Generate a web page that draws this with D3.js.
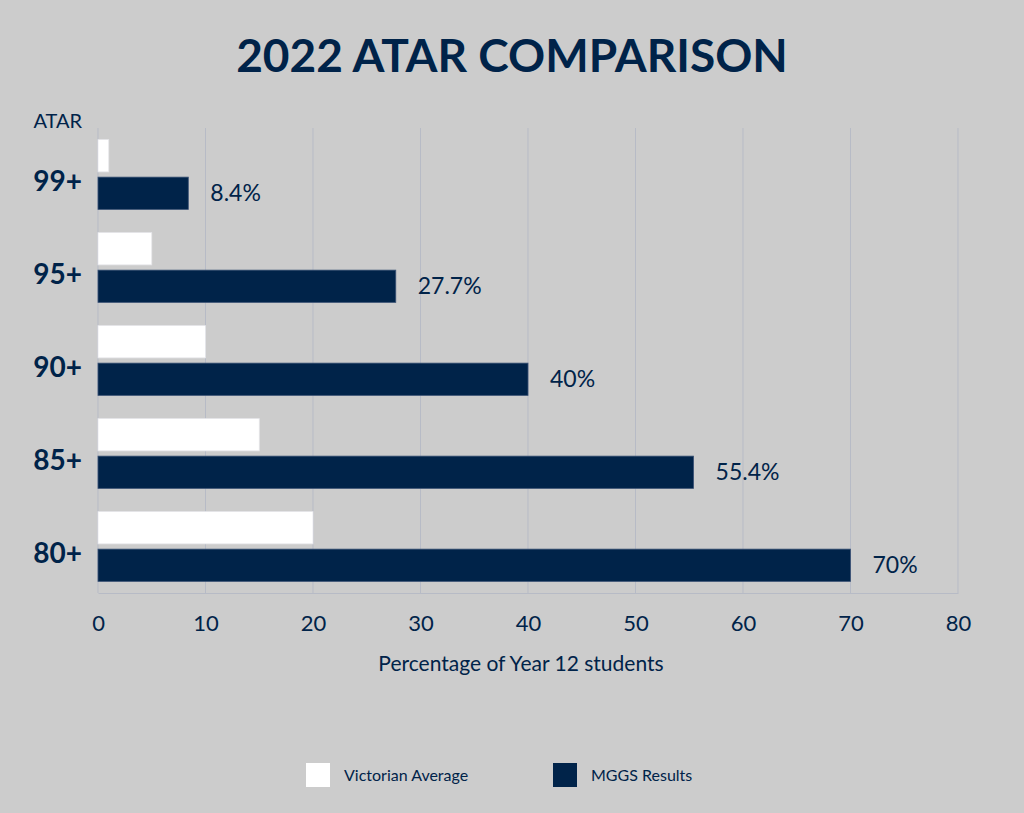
<!DOCTYPE html>
<html>
<head>
<meta charset="utf-8">
<script src="https://cdn.jsdelivr.net/npm/d3@7"></script>
<style>
  body { margin: 0; background: #cccccc; }
  svg { display: block; font-family: Lato, "Noto Sans", sans-serif; }
</style>
</head>
<body>
<svg id="chart" width="1024" height="813"></svg>
<script>
var categories = ["99+", "95+", "90+", "85+", "80+"],
    seriesNames = ["Victorian Average", "MGGS Results"],
    victorian = [1, 5, 10, 15, 20],
    mggs = [8.4, 27.7, 40, 55.4, 70],
    mggsLabels = ["8.4%", "27.7%", "40%", "55.4%", "70%"],
    xTicks = [0, 10, 20, 30, 40, 50, 60, 70, 80];

var navy = "#002349",
    grid = "#b7bbc6",
    colors = ["#ffffff", navy],
    plotLeft = 98,
    plotRight = 958,
    plotTop = 128,
    plotBottom = 593;

var svg = d3.select("#chart");

svg.append("rect")
    .attr("width", 1024).attr("height", 813)
    .attr("fill", "#cccccc");

var x = d3.scaleLinear().domain([0, 80]).range([plotLeft, plotRight]);
var y = d3.scaleBand().domain(categories).range([plotTop, plotBottom]).paddingInner(0.25).paddingOuter(0.125);
var ySub = d3.scaleBand().domain([0, 1]).range([0, y.bandwidth()]).paddingInner(0.14);

// title
svg.append("text")
    .attr("x", 512).attr("y", 72)
    .attr("text-anchor", "middle")
    .attr("font-size", 46).attr("font-weight", 700)
    .attr("fill", navy)
    .text("2022 ATAR COMPARISON");

// gridlines
svg.append("g").selectAll("line")
    .data(xTicks)
    .enter().append("line")
    .attr("x1", function(d) { return x(d); })
    .attr("x2", function(d) { return x(d); })
    .attr("y1", plotTop).attr("y2", plotBottom)
    .attr("stroke", grid).attr("stroke-width", 1);

// x axis
var xAxis = svg.append("g")
    .attr("transform", "translate(0," + plotBottom + ")")
    .call(d3.axisBottom(x).tickValues(xTicks).tickSize(0).tickPadding(22));
xAxis.select(".domain").attr("stroke", grid);
xAxis.selectAll("text")
    .attr("font-size", 22).attr("fill", navy)
    .attr("font-family", "Lato, sans-serif");

svg.append("text")
    .attr("x", 521).attr("y", 671)
    .attr("text-anchor", "middle")
    .attr("font-size", 21).attr("fill", navy)
    .text("Percentage of Year 12 students");

// y axis labels
svg.append("text")
    .attr("x", 82).attr("y", 128)
    .attr("text-anchor", "end")
    .attr("font-size", 20).attr("fill", navy)
    .text("ATAR");

svg.append("g").selectAll("text")
    .data(categories)
    .enter().append("text")
    .attr("x", 82)
    .attr("y", function(d) { return y(d) + y.bandwidth() / 2 + 16; })
    .attr("text-anchor", "end")
    .attr("font-size", 28).attr("font-weight", 700)
    .attr("fill", navy)
    .text(function(d) { return d; });

// bars
var series = [victorian, mggs];
series.forEach(function(vals, s) {
    svg.append("g").selectAll("rect")
        .data(vals)
        .enter().append("rect")
        .attr("x", x(0))
        .attr("y", function(d, i) { return y(categories[i]) + ySub(s); })
        .attr("width", function(d) { return x(d) - x(0); })
        .attr("height", ySub.bandwidth())
        .attr("fill", colors[s])
        .attr("stroke", s === 0 ? "#e6e6ea" : "#3a5275")
        .attr("stroke-width", 0.8);
});

// value labels
svg.append("g").selectAll("text")
    .data(mggs)
    .enter().append("text")
    .attr("x", function(d) { return x(d) + 22; })
    .attr("y", function(d, i) { return y(categories[i]) + ySub(1) + ySub.bandwidth() / 2 + 8; })
    .attr("font-size", 23).attr("fill", navy)
    .text(function(d, i) { return mggsLabels[i]; });

// legend
var legendX = [306, 553];
var legend = svg.append("g").selectAll("g")
    .data(seriesNames)
    .enter().append("g")
    .attr("transform", function(d, i) { return "translate(" + legendX[i] + ",763)"; });
legend.append("rect")
    .attr("width", 24).attr("height", 24)
    .attr("fill", function(d, i) { return colors[i]; });
legend.append("text")
    .attr("x", 38).attr("y", 18)
    .attr("font-size", 16).attr("fill", navy)
    .text(function(d) { return d; });
</script>
</body>
</html>
